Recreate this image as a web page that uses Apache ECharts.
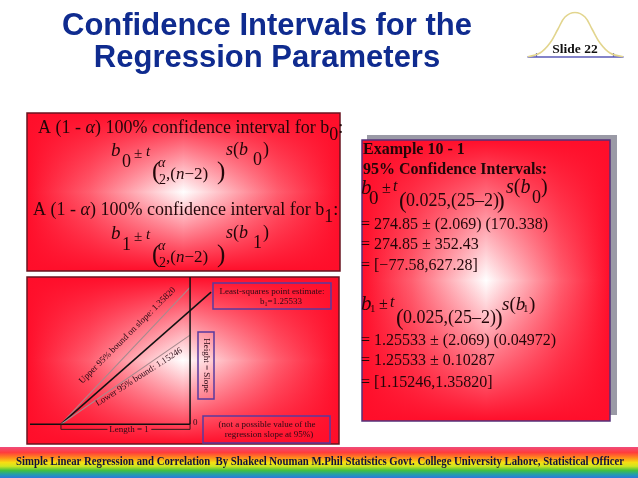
<!DOCTYPE html>
<html><head><meta charset="utf-8">
<script src="https://cdn.jsdelivr.net/npm/echarts@6/dist/echarts.min.js"></script>
<style>html,body{margin:0;padding:0;background:#fff}#c{width:638px;height:478px}</style>
</head><body><div id="c"></div>
<script>
// ---------------- data ----------------
const titleLines = ['Confidence Intervals for the', 'Regression Parameters'];
const slideLabel = 'Slide 22';
// small bell-curve logo (x offset px, height px)
const bellX = [0, 12, 22, 30, 37, 47, 57, 64, 72, 82, 95];
const bellY = [0.3, 4, 14, 28, 40, 44.5, 40, 28, 14, 4, 0.3];
const bellTicks = [8, 85];

// schematic slope diagram (units: Length = 1)
const boundValues = ['1.35820', '1.25533', '1.15246'];
const lengthX = [0, 1];
const upperY = [0, 1.06];
const middleX = [0, 1.163];
const middleY = [0, 1.023];
const lowerY = [0, 0.69];
const baseX = [-0.24, 1];
const verticalY = [0, 1.14];
const bracketLeftX = [0, 0.36];
const bracketRightX = [0.70, 1];
const bracketY = -0.04;

const b0Lines = ['= 274.85 ± (2.069) (170.338)', '= 274.85 ± 352.43', '= [−77.58,627.28]'];
const b1Lines = ['= 1.25533 ± (2.069) (0.04972)', '= 1.25533 ± 0.10287', '= [1.15246,1.35820]'];
const footerText = 'Simple Linear Regression and Correlation  By Shakeel Nouman M.Phil Statistics Govt. College University Lahore, Statistical Officer';

// ---------------- helpers ----------------
const SERIF = 'Liberation Serif';
const INK = '#220608';
const mctx = document.createElement('canvas').getContext('2d');
function measure(t, size, it, b) {
  mctx.font = (it ? 'italic ' : '') + (b ? 'bold ' : '') + size + 'px "' + SERIF + '"';
  return mctx.measureText(t).width;
}
function T(x, y, text, o) {
  o = o || {};
  return {
    type: 'text', x: x, y: y, z: 10, silent: true,
    rotation: o.rot || 0, scaleX: o.sx || 1, scaleY: o.sy || 1,
    style: {
      text: text, fontFamily: o.ff || SERIF, fontSize: o.size || 16,
      fontStyle: o.it ? 'italic' : 'normal', fontWeight: o.b ? 'bold' : 'normal',
      fill: o.color || INK, align: o.align || 'left', verticalAlign: 'middle'
    }
  };
}
function seq(x, y, parts, size, color) {
  const out = [];
  parts.forEach(function (p) {
    const s = p.size || size;
    out.push(T(x, y + (p.dy || 0), p.t, { size: s, it: p.it, b: p.b, color: color }));
    x += measure(p.t, s, p.it, p.b) + (p.dx || 0);
  });
  return out;
}
function seqWidth(parts, size) {
  return parts.reduce(function (a, p) { return a + measure(p.t, p.size || size, p.it, p.b) + (p.dx || 0); }, 0);
}
const R = '255,14,42';
function redBox(x, y, w, h, stroke) {
  const shape = { x: x, y: y, width: w, height: h };
  return [
    { type: 'rect', z: 0, silent: true, shape: shape, style: { fill: { type: 'linear', x: 0, y: 0, x2: 1, y2: 0, colorStops: [
      { offset: 0, color: 'rgb(' + R + ')' }, { offset: 0.2, color: 'rgb(255,95,112)' }, { offset: 0.5, color: '#ffffff' },
      { offset: 0.8, color: 'rgb(255,95,112)' }, { offset: 1, color: 'rgb(' + R + ')' }] } } },
    { type: 'rect', z: 0, silent: true, shape: shape, style: { fill: { type: 'linear', x: 0, y: 0, x2: 0, y2: 1, colorStops: [
      { offset: 0, color: 'rgba(' + R + ',1)' }, { offset: 0.2, color: 'rgba(' + R + ',0.6)' }, { offset: 0.5, color: 'rgba(' + R + ',0)' },
      { offset: 0.8, color: 'rgba(' + R + ',0.6)' }, { offset: 1, color: 'rgba(' + R + ',1)' }] } } },
    { type: 'rect', z: 1, silent: true, shape: shape, style: { fill: 'none', stroke: stroke, lineWidth: 1.5 } }
  ];
}
function frame(x, y, w, h) {
  return { type: 'rect', z: 3, silent: true, shape: { x: x, y: y, width: w, height: h }, style: { fill: 'none', stroke: '#5a3a9e', lineWidth: 1.5 } };
}

// ---------------- graphic ----------------
let G = [];
// right box shadow + boxes
G.push({ type: 'rect', z: 0, silent: true, shape: { x: 367, y: 135, width: 250, height: 280 }, style: { fill: '#9a9aa6' } });
G = G.concat(redBox(27, 113, 313, 158, '#6a1420'));
G = G.concat(redBox(27, 277, 312, 167, '#6a1420'));
G = G.concat(redBox(362, 140, 248, 281, '#55307a'));

// top-left box texts
G = G.concat(seq(38, 128, [{ t: 'A (1 - ' }, { t: 'α', it: true }, { t: ') 100% confidence interval for b' }, { t: '0', dy: 7 }, { t: ':' }], 18));
G = G.concat(seq(33, 210, [{ t: 'A (1 - ' }, { t: 'α', it: true }, { t: ') 100% confidence interval for b' }, { t: '1', dy: 7 }, { t: ':' }], 18));
[['0', 0], ['1', 83]].forEach(function (f) {
  const sub = f[0], oy = f[1];
  G.push(T(111, 151 + oy, 'b', { it: true, size: 19 }));
  G.push(T(122, 162 + oy, sub, { size: 18 }));
  G.push(T(134, 154 + oy, '±', { size: 15 }));
  G.push(T(146, 152 + oy, 't', { it: true, size: 15 }));
  G.push(T(152, 172 + oy, '(', { size: 25 }));
  G.push(T(158, 163 + oy, 'α', { it: true, size: 14 }));
  G.push(T(159, 180 + oy, '2', { size: 14 }));
  G = G.concat(seq(166, 175 + oy, [{ t: ',(' }, { t: 'n', it: true }, { t: '−2)' }], 17));
  G.push(T(217, 172 + oy, ')', { size: 25 }));
  G = G.concat(seq(226, 150 + oy, [{ t: 's', it: true }, { t: '(' }, { t: 'b', it: true }], 18));
  G.push(T(253, 160 + oy, sub, { size: 18 }));
  G.push(T(263, 150 + oy, ')', { size: 18 }));
});

// right box texts
G.push(T(363, 150, 'Example 10 - 1', { b: true, size: 16 }));
G.push(T(363, 170, '95% Confidence Intervals:', { b: true, size: 16 }));
G.push(T(361, 188, 'b', { it: true, size: 21 }));
G.push(T(369, 199, '0', { size: 19 }));
G.push(T(382, 189, '±', { size: 16 }));
G.push(T(393, 187, 't', { it: true, size: 16 }));
G.push(T(399, 202, '(', { size: 23 }));
G.push(T(406, 201, '0.025,(25–2)', { size: 18 }));
G.push(T(497, 202, ')', { size: 23 }));
G = G.concat(seq(506, 188, [{ t: 's', it: true }, { t: '(' }, { t: 'b', it: true }], 20));
G.push(T(532, 198, '0', { size: 18 }));
G.push(T(541, 188, ')', { size: 20 }));
b0Lines.forEach(function (s, i) { G.push(T(361, [225, 245, 266][i], s, { size: 16 })); });

G.push(T(361, 304, 'b', { it: true, size: 21 }));
G.push(T(370, 309, '1', { size: 11 }));
G.push(T(379, 305, '±', { size: 16 }));
G.push(T(390, 303, 't', { it: true, size: 16 }));
G.push(T(396, 319, '(', { size: 23 }));
G.push(T(403, 318, '0.025,(25–2)', { size: 18 }));
G.push(T(495, 319, ')', { size: 23 }));
G = G.concat(seq(502, 305, [{ t: 's', it: true }, { t: '(' }, { t: 'b', it: true }], 19));
G.push(T(523, 309, '1', { size: 11 }));
G.push(T(529, 305, ')', { size: 19 }));
b1Lines.forEach(function (s, i) { G.push(T(361, [341, 361, 383][i], s, { size: 16 })); });

// diagram annotations
const DI = '#2a0a14';
G.push(T(127.5, 335.5, 'Upper 95% bound on slope: ' + boundValues[0], { size: 9, rot: Math.PI / 4, align: 'center', color: DI }));
G.push(T(139, 377, 'Lower 95% bound: ' + boundValues[2], { size: 9, rot: 0.57, align: 'center', color: DI }));
G.push(T(129, 430, 'Length = 1', { size: 9, align: 'center', color: DI }));
G.push(T(193, 423, '0', { size: 9, color: DI }));
G.push(frame(213, 283, 118, 26));
G.push(T(272, 292, 'Least-squares point estimate:', { size: 9, align: 'center', color: DI }));
const lsParts = [{ t: 'b' }, { t: '1', size: 6, dy: 2 }, { t: '=' + boundValues[1] }];
G = G.concat(seq(281 - seqWidth(lsParts, 9) / 2, 302, lsParts, 9, DI));
G.push(frame(198, 332, 16, 67));
G.push(T(206, 365.5, 'Height = Slope', { size: 9, rot: -Math.PI / 2, align: 'center', color: DI }));
G.push(frame(203, 416, 127, 27));
G.push(T(267, 425, '(not a possible value of the', { size: 9, align: 'center', color: DI }));
G.push(T(269, 435, 'regression slope at 95%)', { size: 9, align: 'center', color: DI }));

// slide logo label
G.push(T(575, 50, slideLabel, { size: 13.5, b: true, align: 'center', color: '#111' }));

// footer band
G.push({ type: 'rect', z: 0, silent: true, shape: { x: 0, y: 447, width: 638, height: 31 }, style: { fill: { type: 'linear', x: 0, y: 0, x2: 0, y2: 1, colorStops: [
  { offset: 0, color: '#f04c7c' }, { offset: 0.18, color: '#ff3c3c' }, { offset: 0.35, color: '#ff8c1c' },
  { offset: 0.5, color: '#f6de12' }, { offset: 0.62, color: '#d0e620' }, { offset: 0.76, color: '#40c040' },
  { offset: 0.88, color: '#22a0a8' }, { offset: 1, color: '#2a78e0' }] } } });
const fw = measure(footerText, 12, false, true);
G.push(T(320, 462, footerText, { size: 12, b: true, align: 'center', color: '#12103c', sx: 608 / fw }));

// ---------------- chart ----------------
const chart = echarts.init(document.getElementById('c'), null, { renderer: 'canvas' });
const thin = function (c, w) { return { color: c, width: w }; };
chart.setOption({
  animation: false,
  backgroundColor: '#ffffff',
  title: {
    text: titleLines.join('\n'), left: 267, top: 10, padding: 0, textAlign: 'center',
    textStyle: { fontFamily: 'Liberation Sans', fontWeight: 'bold', fontSize: 31, lineHeight: 32, color: '#0f2b8f' }
  },
  grid: [
    { left: 528, top: 12, width: 95, height: 45 },
    { left: 30, top: 277, width: 182, height: 167.2 }
  ],
  xAxis: [
    { type: 'value', gridIndex: 0, min: 0, max: 95, splitLine: { show: false }, axisLabel: { show: false },
      axisLine: { show: true, lineStyle: { color: '#5b5bb8', width: 1.5 } },
      axisTick: { show: true, customValues: bellTicks, inside: true, length: 4, lineStyle: { color: '#5b5bb8', width: 1.2 } } },
    { type: 'value', gridIndex: 1, min: -0.24, max: 1.17, show: false }
  ],
  yAxis: [
    { type: 'value', gridIndex: 0, min: 0, max: 45, show: false },
    { type: 'value', gridIndex: 1, min: -0.155, max: 1.14, show: false }
  ],
  series: [
    { type: 'line', xAxisIndex: 0, yAxisIndex: 0, smooth: 0.35, symbol: 'none', silent: true, z: 2,
      data: bellX.map(function (x, i) { return [x, bellY[i]]; }), lineStyle: thin('#e2d58e', 1.6) },
    { type: 'line', name: 'Upper 95% bound', xAxisIndex: 1, yAxisIndex: 1, symbol: 'none', silent: true, z: 5,
      data: lengthX.map(function (x, i) { return [x, upperY[i]]; }), lineStyle: thin('#a88a8e', 1.1) },
    { type: 'line', name: 'Least-squares estimate', xAxisIndex: 1, yAxisIndex: 1, symbol: 'none', silent: true, z: 5,
      data: middleX.map(function (x, i) { return [x, middleY[i]]; }), lineStyle: thin('#111', 1.5) },
    { type: 'line', name: 'Lower 95% bound', xAxisIndex: 1, yAxisIndex: 1, symbol: 'none', silent: true, z: 5,
      data: lengthX.map(function (x, i) { return [x, lowerY[i]]; }), lineStyle: thin('#a88a8e', 1.1) },
    { type: 'line', name: 'base', xAxisIndex: 1, yAxisIndex: 1, symbol: 'none', silent: true, z: 5,
      data: baseX.map(function (x) { return [x, 0]; }), lineStyle: thin('#111', 1.5) },
    { type: 'line', name: 'height', xAxisIndex: 1, yAxisIndex: 1, symbol: 'none', silent: true, z: 5,
      data: verticalY.map(function (y) { return [1, y]; }), lineStyle: thin('#111', 1.5) },
    { type: 'line', name: 'bracketL', xAxisIndex: 1, yAxisIndex: 1, symbol: 'none', silent: true, z: 5,
      data: [[bracketLeftX[0], 0]].concat(bracketLeftX.map(function (x) { return [x, bracketY]; })), lineStyle: thin('#3a1a1a', 1) },
    { type: 'line', name: 'bracketR', xAxisIndex: 1, yAxisIndex: 1, symbol: 'none', silent: true, z: 5,
      data: bracketRightX.map(function (x) { return [x, bracketY]; }).concat([[bracketRightX[1], 0]]), lineStyle: thin('#3a1a1a', 1) }
  ],
  graphic: { elements: G }
});
</script></body></html>
